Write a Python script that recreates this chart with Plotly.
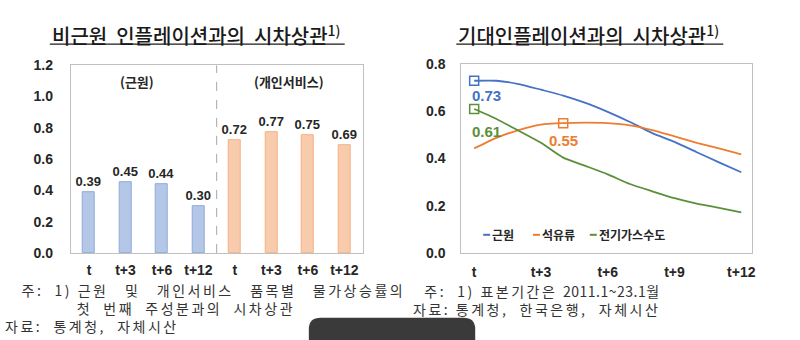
import plotly.graph_objects as go

# ---------------- data ----------------
bar_labels = ["t", "t+3", "t+6", "t+12", "t", "t+3", "t+6", "t+12"]
bar_pos = [0, 1, 2, 3, 4, 5, 6, 7]
core_bars = [0.39, 0.45, 0.44, 0.30]
service_bars = [0.72, 0.77, 0.75, 0.69]
group_names = ["(근원)", "(개인서비스)"]

lag = [0, 1, 2, 3, 4, 5, 6, 7, 8, 9, 10, 11, 12]
lag_tickvals = [0, 3, 6, 9, 12]
lag_ticktext = ["t", "t+3", "t+6", "t+9", "t+12"]
core_corr = [0.73, 0.73, 0.716, 0.692, 0.667, 0.636, 0.598, 0.555, 0.508, 0.471, 0.427, 0.384, 0.342]
oil_corr = [0.443, 0.488, 0.521, 0.544, 0.55, 0.552, 0.55, 0.541, 0.521, 0.494, 0.467, 0.443, 0.418]
util_corr = [0.61, 0.568, 0.518, 0.467, 0.404, 0.369, 0.333, 0.292, 0.261, 0.232, 0.209, 0.191, 0.172]
series_names = ["근원", "석유류", "전기가스수도"]
marker_idx = [0, 4, 0]

title_left = "비근원  인플레이션과의  시차상관"
title_right = "기대인플레이션과의  시차상관"
note_left_words = [
    ["주:", "1)", "근원", "및", "개인서비스", "품목별", "물가상승률의"],
    ["첫", "번째", "주성분과의", "시차상관"],
    ["자료:", "통계청,", "자체시산"],
]
note_right_words = [
    ["주:", "1)", "표본기간은", "2011.1~23.1", "월"],
    ["자료:", "통계청,", "한국은행,", "자체시산"],
]

# ---------------- layout helpers ----------------
W, H = 800, 340
def px(x):
    return x / W
def py(y):
    return (H - y) / H

FONT = "Liberation Sans, Arial, Noto Sans CJK KR"
KFONT = "Noto Sans CJK KR"
BLUE_FILL, BLUE_LINE = "#b4c7e7", "#8eaadb"
ORANGE_FILL, ORANGE_LINE = "#f8cbad", "#f4b183"
LINE_COLORS = ["#4472c4", "#ed7d31", "#5b8f3a"]
FRAME = "#c0c0c0"
TXT = "#262626"

WIDE = "\u3000"          # wide (justified) word gap
MID = " \u00a0"          # medium word gap
SP = " "

def spaced(s, ls=2.5):
    return f"<span style='letter-spacing:{ls}px'>{s}</span>"

lw, rw = note_left_words, note_right_words
left_lines = [
    spaced(WIDE + lw[0][0] + MID + lw[0][1] + SP + WIDE.join(lw[0][2:])),
    spaced(WIDE * 4 + "\u00a0" + MID.join(lw[1])),
    spaced(MID.join(lw[2])),
]
right_lines = [
    spaced("\u00a0\u00a0" + rw[0][0] + MID + rw[0][1] + SP + rw[0][2] + SP)
    + spaced(rw[0][3], 0.5) + spaced(rw[0][4]),
    spaced(rw[1][0] + SP + MID.join(rw[1][1:])),
]

fig = go.Figure()

# bars
for xs, vals, fc, lc in [(bar_pos[:4], core_bars, BLUE_FILL, BLUE_LINE),
                         (bar_pos[4:], service_bars, ORANGE_FILL, ORANGE_LINE)]:
    fig.add_trace(go.Bar(
        x=xs, y=vals, width=0.33,
        marker=dict(color=fc, line=dict(color=lc, width=1)),
        texttemplate="%{y:.2f}", textposition="outside", constraintext="none",
        textfont=dict(family=FONT, size=13, color=TXT, weight="bold"),
        cliponaxis=False, xaxis="x", yaxis="y", showlegend=False))

# lines
series = [core_corr, oil_corr, util_corr]
for vals, col, name in zip(series, LINE_COLORS, series_names):
    fig.add_trace(go.Scatter(
        x=lag, y=vals, mode="lines", name=name,
        line=dict(color=col, width=1.8, shape="spline", smoothing=0.6),
        xaxis="x2", yaxis="y2", showlegend=False))

label_shift = [(-4, -15, "left"), (0, -17, "center"), (-4, -22, "left")]
annotations = []
for vals, col, idx, (xs, ys, xa) in zip(series, LINE_COLORS, marker_idx, label_shift):
    fig.add_trace(go.Scatter(
        x=[lag[idx]], y=[vals[idx]], mode="markers",
        marker=dict(symbol="square-open", size=9, color=col, line=dict(width=1.5)),
        xaxis="x2", yaxis="y2", showlegend=False, cliponaxis=False))
    annotations.append(dict(
        x=lag[idx], y=vals[idx], xref="x2", yref="y2",
        text=f"{vals[idx]:.2f}", showarrow=False,
        xanchor=xa, yanchor="middle", xshift=xs, yshift=ys,
        font=dict(family=FONT, size=15, color=col, weight="bold")))

shapes = []
# legend drawn inside the plot: short coloured dash + label
legend_dash_x = [485, 535, 592]
legend_y = 238
for name, col, lx in zip(series_names, LINE_COLORS, legend_dash_x):
    shapes.append(dict(type="line", xref="paper", yref="paper",
                       x0=px(lx), x1=px(lx + 7), y0=py(legend_y), y1=py(legend_y),
                       line=dict(color=col, width=2)))
    annotations.append(dict(
        x=px(lx + 7), y=py(legend_y), xref="paper", yref="paper",
        text=name, showarrow=False, xanchor="left", yanchor="middle",
        font=dict(family=KFONT, size=12, color=TXT, weight="bold")))

# group subtitles
for name, cx in zip(group_names, [138, 290]):
    annotations.append(dict(
        x=px(cx), y=py(77), xref="paper", yref="paper", text=name,
        showarrow=False, xanchor="center", yanchor="middle",
        font=dict(family=KFONT, size=13, color=TXT, weight="bold")))

# titles
tfont = dict(family=KFONT, size=20, color="#1a1a1a", weight=500)
annotations.append(dict(x=px(50), y=py(28), xref="paper", yref="paper",
    text=title_left + "<sup>1)</sup>", showarrow=False, xanchor="left", yanchor="middle", font=tfont))
annotations.append(dict(x=px(458), y=py(28), xref="paper", yref="paper",
    text=title_right + "<sup>1)</sup>", showarrow=False, xanchor="left", yanchor="middle", font=tfont))

# footnotes
nfont = dict(family=KFONT, size=14, color="#333333")
annotations.append(dict(x=px(3), y=py(315), xref="paper", yref="paper",
    text="<br>".join(left_lines), align="left", showarrow=False,
    xanchor="left", yanchor="middle", font=nfont))
annotations.append(dict(x=px(413), y=py(306), xref="paper", yref="paper",
    text="<br>".join(right_lines), align="left", showarrow=False,
    xanchor="left", yanchor="middle", font=nfont))

# separator, title underlines, dark overlay box
shapes += [
    dict(type="line", xref="x", yref="y", x0=3.5, x1=3.5, y0=0, y1=1.2,
         line=dict(color="#a6a6a6", width=1, dash="dash")),
    dict(type="line", xref="paper", yref="paper", x0=px(50), x1=px(346), y0=py(38), y1=py(38),
         line=dict(color="#1a1a1a", width=1.3)),
    dict(type="line", xref="paper", yref="paper", x0=px(458), x1=px(726), y0=py(38), y1=py(38),
         line=dict(color="#1a1a1a", width=1.3)),
]
x0, x1, yt, yb = px(310), px(477), py(325), py(350)
rx, ry = 12 / W, 12 / H
shapes.append(dict(type="path", xref="paper", yref="paper",
    path=f"M {x0},{yb} L {x0},{yt - ry} Q {x0},{yt} {x0 + rx},{yt} L {x1 - rx},{yt} Q {x1},{yt} {x1},{yt - ry} L {x1},{yb} Z",
    fillcolor="#3a3a3a", line=dict(width=0), layer="above"))

tickfont = dict(family=FONT, size=14, color=TXT, weight="bold")
axis_common = dict(showgrid=False, zeroline=False, showline=True, linecolor=FRAME,
                   linewidth=1, mirror=True, ticks="", tickfont=tickfont)

fig.update_layout(
    width=W, height=H, autosize=False,
    margin=dict(l=0, r=0, t=0, b=0),
    paper_bgcolor="white", plot_bgcolor="white",
    xaxis=dict(domain=[px(71), px(364)], range=[-0.5, 7.5], tickvals=bar_pos,
               ticktext=bar_labels, anchor="y", ticklabelstandoff=4, **axis_common),
    yaxis=dict(domain=[py(257), py(60)], range=[0, 1.2], tickvals=[0, 0.2, 0.4, 0.6, 0.8, 1.0, 1.2],
               tickformat=".1f", anchor="x", ticklabelstandoff=14, **axis_common),
    xaxis2=dict(domain=[px(463), px(755)], range=[-0.58, 12.49], tickvals=lag_tickvals,
                ticktext=lag_ticktext, anchor="y2", ticklabelstandoff=6, **axis_common),
    yaxis2=dict(domain=[py(257), py(59)], range=[0, 0.8], tickvals=[0, 0.2, 0.4, 0.6, 0.8],
                tickformat=".1f", anchor="x2", ticklabelstandoff=12, **axis_common),
    annotations=annotations, shapes=shapes, bargap=0,
)

fig.write_html("out.html")
